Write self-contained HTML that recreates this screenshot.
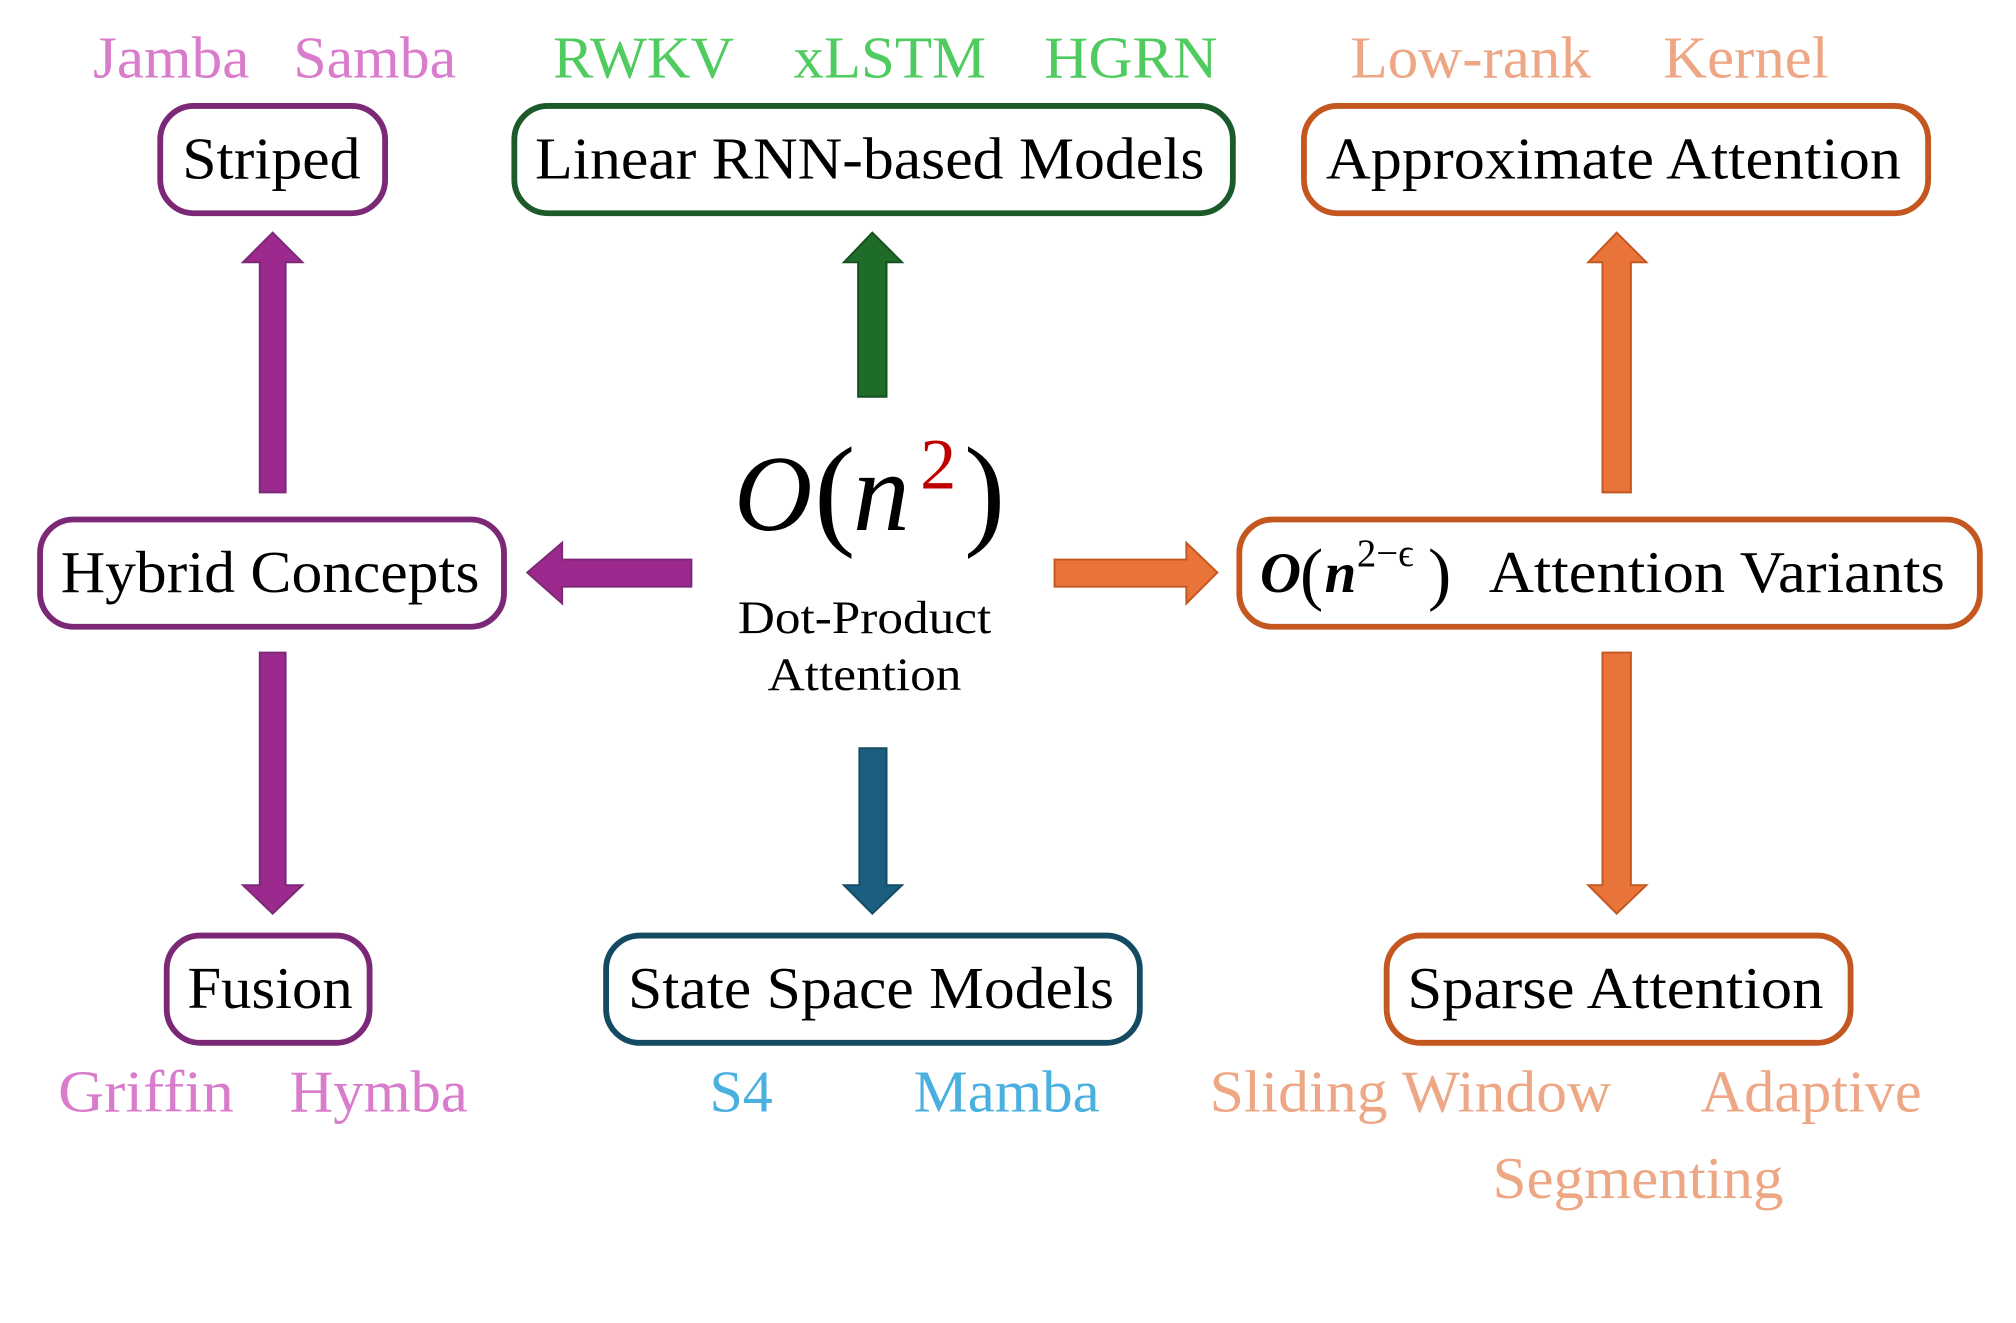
<!DOCTYPE html>
<html><head><meta charset="utf-8"><style>
html,body{margin:0;padding:0;background:#fff;}
svg{display:block;}
text{font-family:"Liberation Serif",serif;}
</style></head><body>
<svg width="2016" height="1323" viewBox="0 0 1560 1023.8" preserveAspectRatio="none" xmlns="http://www.w3.org/2000/svg">
<rect width="1560" height="1024" fill="#fff"/>
<g font-size="46">
<text x="72" y="60" fill="#d97ccb" textLength="121" lengthAdjust="spacingAndGlyphs">Jamba</text>
<text x="227" y="60" fill="#d97ccb" textLength="126" lengthAdjust="spacingAndGlyphs">Samba</text>
<text x="428" y="60" fill="#4fcb5f" textLength="140" lengthAdjust="spacingAndGlyphs">RWKV</text>
<text x="614" y="60" fill="#4fcb5f" textLength="149" lengthAdjust="spacingAndGlyphs">xLSTM</text>
<text x="808" y="60" fill="#4fcb5f" textLength="134" lengthAdjust="spacingAndGlyphs">HGRN</text>
<text x="1045" y="60" fill="#eea784" textLength="186" lengthAdjust="spacingAndGlyphs">Low-rank</text>
<text x="1287" y="60" fill="#eea784" textLength="128" lengthAdjust="spacingAndGlyphs">Kernel</text>
<text x="45" y="860" fill="#d97ccb" textLength="136" lengthAdjust="spacingAndGlyphs">Griffin</text>
<text x="224" y="860" fill="#d97ccb" textLength="138" lengthAdjust="spacingAndGlyphs">Hymba</text>
<text x="549" y="860" fill="#4ab0df" textLength="49" lengthAdjust="spacingAndGlyphs">S4</text>
<text x="707" y="860" fill="#4ab0df" textLength="144" lengthAdjust="spacingAndGlyphs">Mamba</text>
<text x="936" y="860" fill="#eea784" textLength="311" lengthAdjust="spacingAndGlyphs">Sliding Window</text>
<text x="1316" y="860" fill="#eea784" textLength="171" lengthAdjust="spacingAndGlyphs">Adaptive</text>
<text x="1155" y="927" fill="#eea784" textLength="225" lengthAdjust="spacingAndGlyphs">Segmenting</text>
</g>
<g fill="#fff" stroke-width="4.5">
<rect x="124" y="82" width="174" height="83" rx="26" stroke="#7b2877"/>
<rect x="398" y="82" width="556" height="83" rx="26" stroke="#1c5a2a"/>
<rect x="1009" y="82" width="483" height="83" rx="26" stroke="#c4561f"/>
<rect x="31" y="402" width="359" height="83" rx="26" stroke="#7b2877"/>
<rect x="959" y="402" width="573" height="83" rx="26" stroke="#c4561f"/>
<rect x="129" y="724" width="157" height="83" rx="26" stroke="#7b2877"/>
<rect x="469" y="724" width="413" height="83" rx="26" stroke="#154b62"/>
<rect x="1073" y="724" width="359" height="83" rx="26" stroke="#c4561f"/>
</g>
<g font-size="46" fill="#000">
<text x="141" y="138" textLength="138" lengthAdjust="spacingAndGlyphs">Striped</text>
<text x="414" y="138" textLength="518" lengthAdjust="spacingAndGlyphs">Linear RNN-based Models</text>
<text x="1026" y="138" textLength="445" lengthAdjust="spacingAndGlyphs">Approximate Attention</text>
<text x="47" y="458" textLength="324" lengthAdjust="spacingAndGlyphs">Hybrid Concepts</text>
<text x="1152" y="458" textLength="353" lengthAdjust="spacingAndGlyphs">Attention Variants</text>
<text x="145" y="780" textLength="128" lengthAdjust="spacingAndGlyphs">Fusion</text>
<text x="486" y="780" textLength="376" lengthAdjust="spacingAndGlyphs">State Space Models</text>
<text x="1089" y="780" textLength="322" lengthAdjust="spacingAndGlyphs">Sparse Attention</text>
</g>
<g fill="#000">
<text x="975" y="458" font-size="44" font-style="italic" font-weight="bold">O</text>
<text x="1006" y="462" font-size="54">(</text>
<text x="1025" y="458" font-size="44" font-style="italic" font-weight="bold">n</text>
<text x="1050" y="438" font-size="30">2−ϵ</text>
<text x="1105" y="462" font-size="54">)</text>
</g>
<g fill="#000">
<text x="568" y="410" font-size="84" font-style="italic">O</text>
<text x="630" y="412" font-size="96">(</text>
<text x="660" y="410" font-size="88" font-style="italic">n</text>
<text x="712" y="378" font-size="56" fill="#c00000">2</text>
<text x="746" y="412" font-size="96">)</text>
<text x="669" y="490" font-size="36" text-anchor="middle" textLength="196" lengthAdjust="spacingAndGlyphs">Dot-Product</text>
<text x="669" y="534" font-size="36" text-anchor="middle" textLength="150" lengthAdjust="spacingAndGlyphs">Attention</text>
</g>
<g stroke-width="1.5">
<polygon points="201,381 221,381 221,203 234,203 211,180 188,203 201,203" fill="#9c2a8e" stroke="#7b2877"/>
<polygon points="664,307 686,307 686,203 698,203 675,180 653,203 664,203" fill="#1f6b28" stroke="#175020"/>
<polygon points="1240,381 1262,381 1262,203 1274,203 1251,180 1229,203 1240,203" fill="#e8743a" stroke="#c4561f"/>
<polygon points="201,505 221,505 221,685 234,685 211,707 188,685 201,685" fill="#9c2a8e" stroke="#7b2877"/>
<polygon points="665,579 686,579 686,685 698,685 675,707 653,685 665,685" fill="#1a5f80" stroke="#154b62"/>
<polygon points="1240,505 1262,505 1262,685 1274,685 1251,707 1229,685 1240,685" fill="#e8743a" stroke="#c4561f"/>
<polygon points="535,433 535,454 435,454 435,467 408,443 435,420 435,433" fill="#9c2a8e" stroke="#7b2877"/>
<polygon points="816,433 816,454 918,454 918,467 942,443 918,420 918,433" fill="#e8743a" stroke="#c4561f"/>
</g>
</svg>
</body></html>
